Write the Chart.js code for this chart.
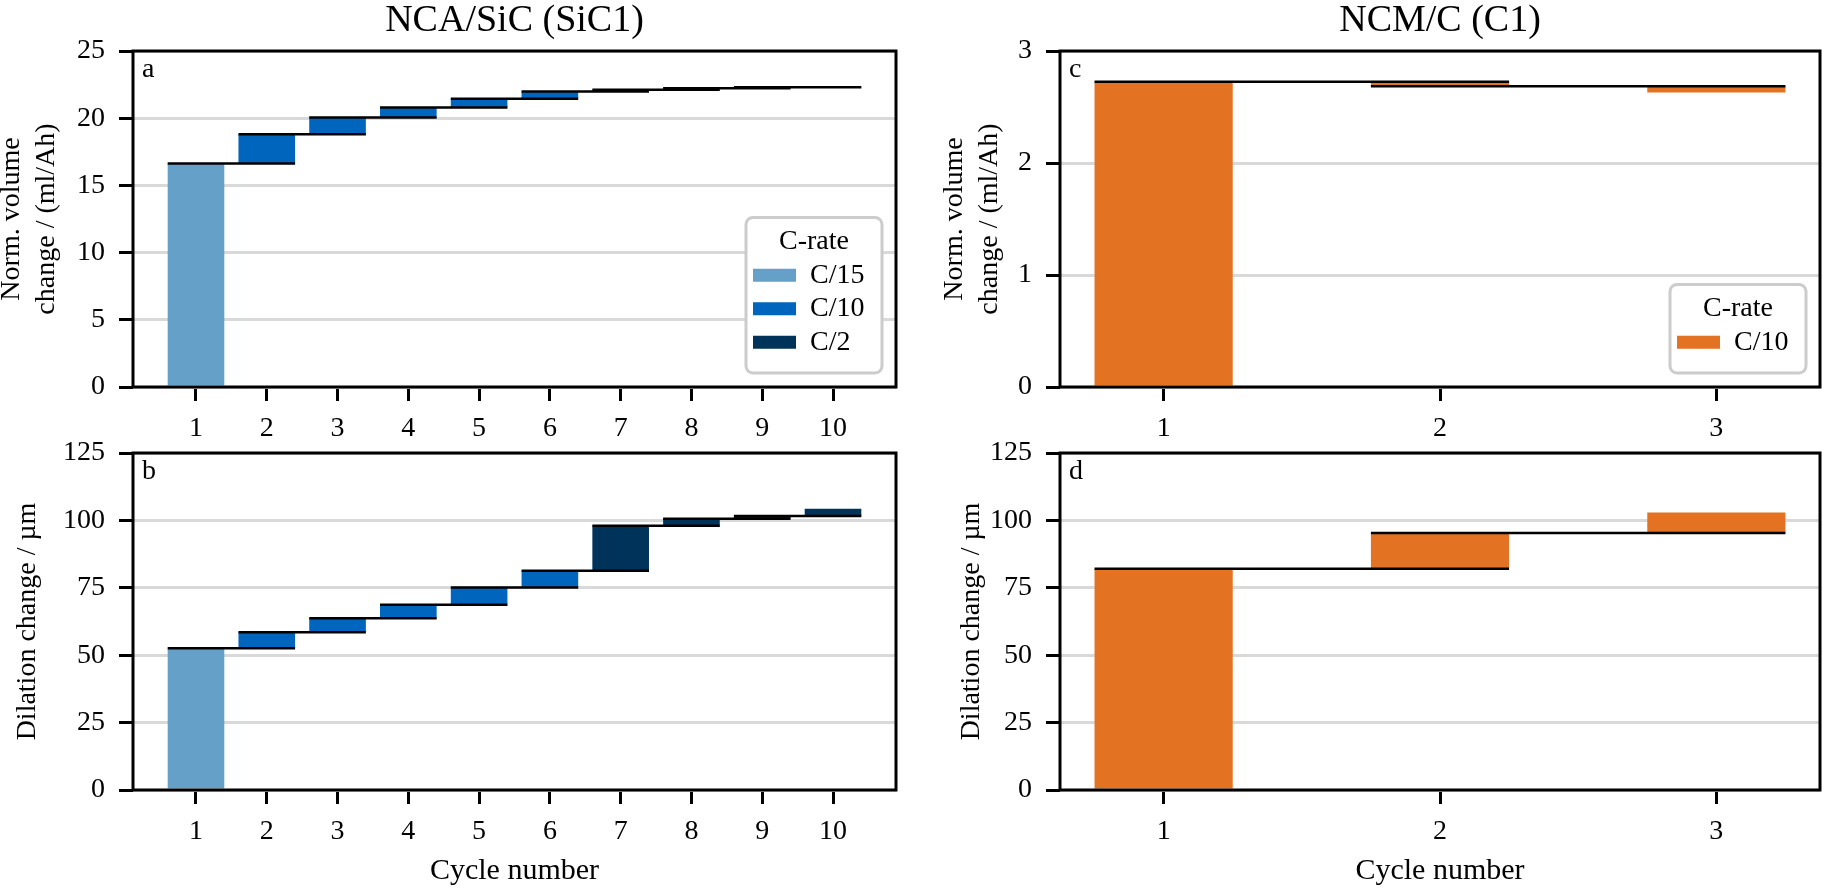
<!DOCTYPE html>
<html>
<head>
<meta charset="utf-8">
<script src="https://cdn.jsdelivr.net/npm/chart.js@4.4.0/dist/chart.umd.min.js"></script>
<style>
  html, body { margin: 0; padding: 0; background: #fff; }
  body { width: 1822px; height: 891px; position: relative; overflow: hidden; }
  .panel { position: absolute; }
</style>
</head>
<body>
<div class="panel" style="left:-6px;top:0;width:917px;height:445px"><canvas id="cA"></canvas></div>
<div class="panel" style="left:-6px;top:415px;width:917px;height:476px"><canvas id="cB"></canvas></div>
<div class="panel" style="left:911px;top:0;width:911px;height:445px"><canvas id="cC"></canvas></div>
<div class="panel" style="left:911px;top:415px;width:911px;height:476px"><canvas id="cD"></canvas></div>
<script>
// ── Dados (nível acumulado após cada ciclo) ──
const cyclesSiC = [1, 2, 3, 4, 5, 6, 7, 8, 9, 10];
const rateSiC   = ['C/15', 'C/10', 'C/10', 'C/10', 'C/10', 'C/10', 'C/2', 'C/2', 'C/2', 'C/2'];
const volSiC    = [16.63, 18.81, 20.06, 20.80, 21.45, 21.98, 22.12, 22.22, 22.30, 22.34];
const dilSiC    = [52.6, 58.5, 63.7, 68.7, 75.1, 81.3, 98.0, 100.6, 101.6, 104.3];

const cyclesC = [1, 2, 3];
const rateC   = ['C/10', 'C/10', 'C/10'];
const volC    = [2.725, 2.685, 2.63];
const dilC    = [82.1, 95.3, 102.9];

const ticksVol    = [0, 5, 10, 15, 20, 25];
const ticksVolC   = [0, 1, 2, 3];
const ticksDil    = [0, 25, 50, 75, 100, 125];

const ratesSiC  = ['C/15', 'C/10', 'C/2'];
const ratesC    = ['C/10'];
const colorsSiC = { 'C/15': '#64A0C8', 'C/10': '#0065BD', 'C/2': '#003359' };
const colorsC   = { 'C/10': '#E37222' };

const FONT = "'Liberation Serif', 'DejaVu Serif', serif";
const FS = 28;
Chart.defaults.font.family = FONT;
Chart.defaults.color = '#000';

// ── Moldura, letra, título e legenda ──
const panelDecor = {
  id: 'panelDecor',
  afterDatasetsDraw(chart, args, o) {
    const { ctx, chartArea: a } = chart;
    ctx.save();
    ctx.strokeStyle = '#000';
    ctx.lineWidth = 3;
    ctx.strokeRect(a.left, a.top, a.right - a.left, a.bottom - a.top);

    ctx.fillStyle = '#000';
    ctx.font = `${FS}px ${FONT}`;
    ctx.textAlign = 'left';
    ctx.textBaseline = 'alphabetic';
    ctx.fillText(o.letter, a.left + 9, a.top + 26);

    if (o.title) {
      ctx.font = `38px ${FONT}`;
      ctx.textAlign = 'center';
      ctx.textBaseline = 'middle';
      ctx.fillText(o.title, (a.left + a.right) / 2, 21);
    }

    if (o.legend) {
      const items = o.legend.names;
      const w = 136, h = 8 + 33 + items.length * 33.5 + 14;
      const x = a.right - 14 - w, y = a.bottom - 14 - h;
      ctx.beginPath();
      ctx.roundRect(x, y, w, h, 7);
      ctx.fillStyle = '#fff';
      ctx.fill();
      ctx.strokeStyle = '#cccccc';
      ctx.lineWidth = 3;
      ctx.stroke();
      ctx.fillStyle = '#000';
      ctx.font = `${FS}px ${FONT}`;
      ctx.textAlign = 'center';
      ctx.textBaseline = 'middle';
      ctx.fillText('C-rate', x + w / 2, y + 24.5);
      items.forEach((name, i) => {
        const cy = y + 41 + 16.75 + i * 33.5;
        ctx.fillStyle = o.legend.colors[name];
        ctx.fillRect(x + 7, cy - 6.5, 43, 13);
        ctx.fillStyle = '#000';
        ctx.textAlign = 'left';
        ctx.fillText(name, x + 64, cy);
      });
    }
    ctx.restore();
  }
};

function noPad(s) {
  s.paddingTop = 0; s.paddingBottom = 0; s.paddingLeft = 0; s.paddingRight = 0;
}

function makePanel(id, p) {
  const n = p.cycles.length;
  const w = p.barW;
  const bars = p.cycles.map((c, i) => ({ x: c, y: [i ? p.levels[i - 1] : 0, p.levels[i]] }));
  const conn = [];
  for (let i = 0; i < n - 1; i++) {
    conn.push({ x: p.cycles[i] - w / 2, y: p.levels[i] });
    conn.push({ x: p.cycles[i + 1] + w / 2, y: p.levels[i] });
    conn.push({ x: p.cycles[i + 1] + w / 2, y: null });
  }
  const lo = p.cycles[0] - w / 2, hi = p.cycles[n - 1] + w / 2;
  const m = 0.05 * (hi - lo);

  return new Chart(document.getElementById(id), {
    data: {
      datasets: [
        {
          type: 'bar', data: bars, order: 1,
          backgroundColor: p.rates.map(r => p.colors[r]),
          borderWidth: 0, barPercentage: w, categoryPercentage: 1
        },
        {
          type: 'line', data: conn, order: 0,
          borderColor: '#000', borderWidth: 2.5, pointRadius: 0, fill: false, spanGaps: false
        }
      ]
    },
    options: {
      responsive: true, maintainAspectRatio: false, animation: false,
      devicePixelRatio: 1,
      layout: { padding: { top: p.padTop, right: p.padRight, left: 0, bottom: 0 } },
      plugins: {
        legend: { display: false }, tooltip: { enabled: false },
        panelDecor: { letter: p.letter, title: p.title, legend: p.legend }
      },
      scales: {
        x: {
          type: 'linear', min: lo - m, max: hi + m, offset: false,
          afterBuildTicks: ax => { ax.ticks = p.cycles.map(v => ({ value: v })); },
          afterFit: s => { s.height = p.xHeight; noPad(s); },
          grid: { offset: false, drawOnChartArea: false, tickColor: '#000', tickWidth: 3, tickLength: 14 },
          border: { display: false },
          ticks: { font: { size: FS }, padding: 11, maxRotation: 0, autoSkip: false },
          title: {
            display: !!p.xTitle, text: p.xTitle || '', font: { size: 30 },
            padding: { top: 0, bottom: 2 }
          }
        },
        y: {
          type: 'linear', min: 0, max: p.yTicks[p.yTicks.length - 1],
          afterBuildTicks: ax => { ax.ticks = p.yTicks.map(v => ({ value: v })); },
          afterFit: s => { s.width = p.yWidth; noPad(s); },
          grid: { color: '#d9d9d9', lineWidth: 3, tickColor: '#000', tickWidth: 3, tickLength: 14 },
          border: { display: false },
          ticks: { font: { size: FS }, padding: 14 },
          title: {
            display: true, text: p.yTitle, font: { size: FS, lineHeight: 1.25 },
            padding: { top: p.yTitlePad, bottom: 0 }
          }
        }
      }
    },
    plugins: [panelDecor]
  });
}

const volTitle = ['Norm. volume', 'change / (ml/Ah)'];
const dilTitle = 'Dilation change / µm';

makePanel('cA', {
  cycles: cyclesSiC, levels: volSiC, rates: rateSiC, colors: colorsSiC, barW: 0.8,
  yTicks: ticksVol, yTitle: volTitle, yTitlePad: 0, letter: 'a', title: 'NCA/SiC (SiC1)',
  legend: { names: ratesSiC, colors: colorsSiC },
  padTop: 51, padRight: 15, xHeight: 58, yWidth: 139
});
makePanel('cB', {
  cycles: cyclesSiC, levels: dilSiC, rates: rateSiC, colors: colorsSiC, barW: 0.8,
  yTicks: ticksDil, yTitle: dilTitle, yTitlePad: 16, letter: 'b', xTitle: 'Cycle number',
  padTop: 38, padRight: 15, xHeight: 101, yWidth: 139
});
makePanel('cC', {
  cycles: cyclesC, levels: volC, rates: rateC, colors: colorsC, barW: 0.5,
  yTicks: ticksVolC, yTitle: volTitle, yTitlePad: 26, letter: 'c', title: 'NCM/C (C1)',
  legend: { names: ratesC, colors: colorsC },
  padTop: 51, padRight: 2, xHeight: 58, yWidth: 149
});
makePanel('cD', {
  cycles: cyclesC, levels: dilC, rates: rateC, colors: colorsC, barW: 0.5,
  yTicks: ticksDil, yTitle: dilTitle, yTitlePad: 43, letter: 'd', xTitle: 'Cycle number',
  padTop: 38, padRight: 2, xHeight: 101, yWidth: 149
});
</script>
</body>
</html>
